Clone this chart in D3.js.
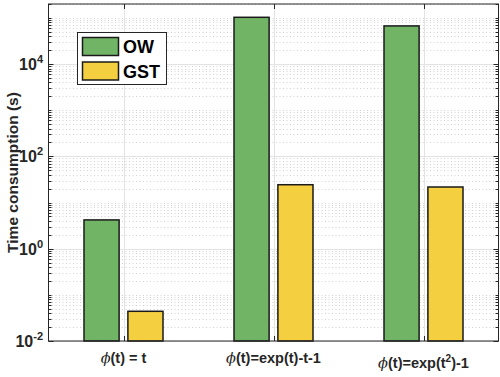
<!DOCTYPE html>
<html>
<head>
<meta charset="utf-8">
<script src="https://cdn.jsdelivr.net/npm/d3@7"></script>
<style>
  body { margin: 0; background: #fff; }
  text { font-family: "Liberation Sans", Arial, sans-serif; font-weight: bold; fill: #262626; }
</style>
</head>
<body>
<div id="chart"></div>
<script>
// data
var categories = ["phi1", "phi2", "phi3"];
var series = ["OW", "GST"];
var owValues = [4.2, 1.03e5, 6.7e4];
var gstValues = [0.044, 24.3, 21.7];
var seriesColors = ["#72b466", "#f4cf3f"];
var majorExponents = [-2, 0, 2, 4];

function init() {
  var w = 500, h = 377;
  var left = 48.5, right = 498.5, top = 4, bottom = 341;

  var svg = d3.select("#chart").append("svg")
      .attr("width", w).attr("height", h);

  var x = d3.scalePoint().domain(categories).range([left, right]).padding(0.5);
  var xSub = d3.scaleBand().domain(series).range([-39.5, 39.5]).paddingInner(0.2);
  var y = d3.scaleLog().domain([1e-2, 2e5]).range([bottom, top]);

  // minor ticks: 1..9 x 10^k, minus the labelled decades
  var allTicks = y.ticks(100).filter(function(d) { return d <= 2e5; });
  var isMajor = function(d) {
    var e = Math.log10(d);
    return Math.abs(e - Math.round(e)) < 1e-9 && majorExponents.indexOf(Math.round(e)) >= 0;
  };
  var minor = allTicks.filter(function(d) { return !isMajor(d); });
  var major = allTicks.filter(isMajor);

  // grid
  var grid = svg.append("g");
  grid.selectAll(".minor").data(minor).enter().append("line")
      .attr("x1", left).attr("x2", right)
      .attr("y1", function(d) { return Math.round(y(d)) + 0.5; })
      .attr("y2", function(d) { return Math.round(y(d)) + 0.5; })
      .attr("stroke", "#c8c8c8").attr("stroke-width", 0.8)
      .attr("stroke-dasharray", "1,2.5");
  grid.selectAll(".major").data(major).enter().append("line")
      .attr("x1", left).attr("x2", right)
      .attr("y1", function(d) { return Math.round(y(d)) + 0.5; })
      .attr("y2", function(d) { return Math.round(y(d)) + 0.5; })
      .attr("stroke", "#e3e3e3").attr("stroke-width", 1);
  grid.selectAll(".vgrid").data(categories).enter().append("line")
      .attr("x1", function(d) { return Math.round(x(d)) + 0.5; })
      .attr("x2", function(d) { return Math.round(x(d)) + 0.5; })
      .attr("y1", top).attr("y2", bottom)
      .attr("stroke", "#e3e3e3").attr("stroke-width", 1);

  // bars
  var rows = categories.map(function(c, i) {
    return [{ cat: c, s: "OW", v: owValues[i] }, { cat: c, s: "GST", v: gstValues[i] }];
  });
  svg.selectAll(".grp").data(rows).enter().append("g")
    .selectAll("rect").data(function(d) { return d; }).enter().append("rect")
      .attr("x", function(d) { return x(d.cat) + xSub(d.s); })
      .attr("width", xSub.bandwidth())
      .attr("y", function(d) { return y(d.v); })
      .attr("height", function(d) { return bottom - y(d.v); })
      .attr("fill", function(d) { return seriesColors[series.indexOf(d.s)]; })
      .attr("stroke", "#1a1a1a").attr("stroke-width", 1.5);

  // axes box
  svg.append("rect")
      .attr("x", left).attr("y", top)
      .attr("width", right - left).attr("height", bottom - top)
      .attr("fill", "none").attr("stroke", "#262626").attr("stroke-width", 1);

  // y ticks inward on both sides
  var ticks = svg.append("g").attr("stroke", "#262626").attr("stroke-width", 1);
  [[left, 1], [right, -1]].forEach(function(p) {
    ticks.selectAll(null).data(minor).enter().append("line")
        .attr("x1", p[0]).attr("x2", p[0] + p[1] * 3)
        .attr("y1", function(d) { return Math.round(y(d)) + 0.5; })
        .attr("y2", function(d) { return Math.round(y(d)) + 0.5; });
    ticks.selectAll(null).data(major).enter().append("line")
        .attr("x1", p[0]).attr("x2", p[0] + p[1] * 5)
        .attr("y1", function(d) { return Math.round(y(d)) + 0.5; })
        .attr("y2", function(d) { return Math.round(y(d)) + 0.5; });
  });
  [[bottom, -1], [top, 1]].forEach(function(p) {
    ticks.selectAll(null).data(categories).enter().append("line")
        .attr("x1", function(d) { return Math.round(x(d)) + 0.5; })
        .attr("x2", function(d) { return Math.round(x(d)) + 0.5; })
        .attr("y1", p[0]).attr("y2", p[0] + p[1] * 5);
  });

  // y tick labels 10^k
  var yl = svg.selectAll(".ylab").data(major).enter().append("text")
      .attr("x", 43).attr("y", function(d) { return y(d) + 6; })
      .attr("text-anchor", "end").style("font-size", "16px");
  yl.append("tspan").text("10");
  yl.append("tspan").attr("dy", -7).style("font-size", "11px")
      .text(function(d) { return String(Math.round(Math.log10(d))); });

  // x tick labels
  var xl = svg.selectAll(".xlab").data(categories).enter().append("text")
      .attr("x", function(d) { return x(d); })
      .attr("y", function(d, i) { return i === 2 ? 368 : 363; })
      .attr("text-anchor", "middle").style("font-size", "14.5px");
  xl.append("tspan").style("font-family", "'DejaVu Serif', serif").style("font-style", "italic")
      .style("font-weight", "normal").text("\u03d5");
  xl.each(function(d, i) {
    var t = d3.select(this);
    if (i === 0) t.append("tspan").text("(t) = t");
    if (i === 1) t.append("tspan").text("(t)=exp(t)-t-1");
    if (i === 2) {
      t.append("tspan").text("(t)=exp(t");
      t.append("tspan").attr("dy", -6).style("font-size", "10px").text("2");
      t.append("tspan").attr("dy", 6).text(")-1");
    }
  });

  // y axis title
  svg.append("text")
      .attr("transform", "translate(18," + ((top + bottom) / 2) + ") rotate(-90)")
      .attr("text-anchor", "middle").style("font-size", "15.5px")
      .text("Time consumption (s)");

  // legend
  var lg = svg.append("g");
  lg.append("rect").attr("x", 77.5).attr("y", 32.5).attr("width", 89).attr("height", 52)
      .attr("fill", "#fff").attr("stroke", "#262626").attr("stroke-width", 1);
  series.forEach(function(s, i) {
    lg.append("rect").attr("x", 82.5).attr("y", 37.5 + i * 24.5)
        .attr("width", 36).attr("height", 18)
        .attr("fill", seriesColors[i]).attr("stroke", "#1a1a1a").attr("stroke-width", 1.5);
    lg.append("text").attr("x", 123).attr("y", 53 + i * 24.5)
        .style("font-size", "18px").style("fill", "#000").text(s);
  });
}

window.onload = init;
</script>
</body>
</html>
